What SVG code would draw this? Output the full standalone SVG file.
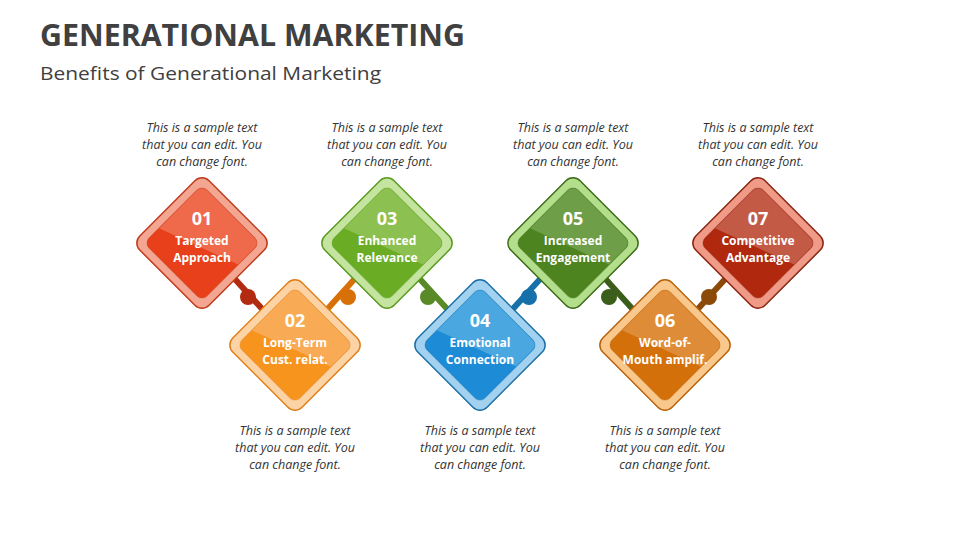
<svg xmlns="http://www.w3.org/2000/svg" width="960" height="540" viewBox="0 0 960 540">
<style>
.title{font-family:"Open Sans","Liberation Sans",sans-serif;font-weight:700;font-size:31px;fill:#404040}
.sub{font-family:"Open Sans","Liberation Sans",sans-serif;font-size:19px;fill:#404040}
.desc{font-family:"Open Sans","Liberation Sans",sans-serif;font-style:italic;font-size:12.5px;fill:#333;text-anchor:middle}
.num{font-family:"Open Sans","Liberation Sans",sans-serif;font-weight:700;font-size:18px;fill:#fff;text-anchor:middle}
.lbl{font-family:"Open Sans","Liberation Sans",sans-serif;font-weight:700;font-size:12px;fill:#fff;text-anchor:middle}
.con line{stroke-width:6}
</style>
<defs>
<clipPath id="inner" clipPathUnits="userSpaceOnUse">
<rect x="-41" y="-41" width="82" height="82" rx="7" transform="rotate(45)"/>
</clipPath>
</defs>
<rect width="960" height="540" fill="#fff"/>
<text class="title" x="40" y="46" textLength="425" lengthAdjust="spacingAndGlyphs">GENERATIONAL MARKETING</text>
<text class="sub" x="40" y="80" textLength="341" lengthAdjust="spacingAndGlyphs">Benefits of Generational Marketing</text>

<g id="connectors" class="con">
<line x1="202" y1="243" x2="295" y2="345" stroke="#b22a10"/><circle cx="248" cy="297" r="8" fill="#b22a10"/>
<line x1="295" y1="345" x2="387" y2="243" stroke="#d87008"/><circle cx="348" cy="297" r="8" fill="#d87008"/>
<line x1="387" y1="243" x2="480" y2="345" stroke="#5a8a28"/><circle cx="428" cy="297" r="8" fill="#5a8a28"/>
<line x1="480" y1="345" x2="573" y2="243" stroke="#1670aa"/><circle cx="529" cy="297" r="8" fill="#1670aa"/>
<line x1="573" y1="243" x2="665" y2="345" stroke="#3b5f1b"/><circle cx="609" cy="297" r="8" fill="#3b5f1b"/>
<line x1="665" y1="345" x2="758" y2="243" stroke="#8b4a08"/><circle cx="709" cy="297" r="8" fill="#8b4a08"/>
</g>

<g id="node1" transform="translate(202,243)">
<rect x="-49" y="-49" width="98" height="98" rx="10" transform="rotate(45)" fill="#f3a792" stroke="#c0391b" stroke-width="1.5"/>
<g clip-path="url(#inner)"><rect x="-70" y="-70" width="140" height="140" fill="#e8401a"/><polygon points="-70,-70 70,-70 70,37 -70,-27" fill="#ee6a4b"/></g>
<rect x="-41" y="-41" width="82" height="82" rx="7" transform="rotate(45)" fill="none" stroke="#c0391b" stroke-opacity="0.35"/>
<text class="num" x="0" y="-18">01</text>
<text class="lbl" x="0" y="2">Targeted</text>
<text class="lbl" x="0" y="19">Approach</text>
</g>

<g id="node2" transform="translate(295,345)">
<rect x="-49" y="-49" width="98" height="98" rx="10" transform="rotate(45)" fill="#fbd3a5" stroke="#e07f1a" stroke-width="1.5"/>
<g clip-path="url(#inner)"><rect x="-70" y="-70" width="140" height="140" fill="#f7941e"/><polygon points="-70,-70 70,-70 70,37 -70,-27" fill="#f9aa55"/></g>
<rect x="-41" y="-41" width="82" height="82" rx="7" transform="rotate(45)" fill="none" stroke="#e07f1a" stroke-opacity="0.35"/>
<text class="num" x="0" y="-18">02</text>
<text class="lbl" x="0" y="2">Long-Term</text>
<text class="lbl" x="0" y="19">Cust. relat.</text>
</g>

<g id="node3" transform="translate(387,243)">
<rect x="-49" y="-49" width="98" height="98" rx="10" transform="rotate(45)" fill="#c5e4a0" stroke="#5a9a20" stroke-width="1.5"/>
<g clip-path="url(#inner)"><rect x="-70" y="-70" width="140" height="140" fill="#6aad25"/><polygon points="-70,-70 70,-70 70,37 -70,-27" fill="#8cc152"/></g>
<rect x="-41" y="-41" width="82" height="82" rx="7" transform="rotate(45)" fill="none" stroke="#5a9a20" stroke-opacity="0.35"/>
<text class="num" x="0" y="-18">03</text>
<text class="lbl" x="0" y="2">Enhanced</text>
<text class="lbl" x="0" y="19">Relevance</text>
</g>

<g id="node4" transform="translate(480,345)">
<rect x="-49" y="-49" width="98" height="98" rx="10" transform="rotate(45)" fill="#a3d2f1" stroke="#1b6fa8" stroke-width="1.5"/>
<g clip-path="url(#inner)"><rect x="-70" y="-70" width="140" height="140" fill="#1d8bd6"/><polygon points="-70,-70 70,-70 70,37 -70,-27" fill="#4aa7e0"/></g>
<rect x="-41" y="-41" width="82" height="82" rx="7" transform="rotate(45)" fill="none" stroke="#1b6fa8" stroke-opacity="0.35"/>
<text class="num" x="0" y="-18">04</text>
<text class="lbl" x="0" y="2">Emotional</text>
<text class="lbl" x="0" y="19">Connection</text>
</g>

<g id="node5" transform="translate(573,243)">
<rect x="-49" y="-49" width="98" height="98" rx="10" transform="rotate(45)" fill="#b3df8c" stroke="#3d6b18" stroke-width="1.5"/>
<g clip-path="url(#inner)"><rect x="-70" y="-70" width="140" height="140" fill="#4d8420"/><polygon points="-70,-70 70,-70 70,37 -70,-27" fill="#6e9e48"/></g>
<rect x="-41" y="-41" width="82" height="82" rx="7" transform="rotate(45)" fill="none" stroke="#3d6b18" stroke-opacity="0.35"/>
<text class="num" x="0" y="-18">05</text>
<text class="lbl" x="0" y="2">Increased</text>
<text class="lbl" x="0" y="19">Engagement</text>
</g>

<g id="node6" transform="translate(665,345)">
<rect x="-49" y="-49" width="98" height="98" rx="10" transform="rotate(45)" fill="#f9c88c" stroke="#b8620a" stroke-width="1.5"/>
<g clip-path="url(#inner)"><rect x="-70" y="-70" width="140" height="140" fill="#d4700a"/><polygon points="-70,-70 70,-70 70,37 -70,-27" fill="#df8c38"/></g>
<rect x="-41" y="-41" width="82" height="82" rx="7" transform="rotate(45)" fill="none" stroke="#b8620a" stroke-opacity="0.35"/>
<text class="num" x="0" y="-18">06</text>
<text class="lbl" x="0" y="2">Word-of-</text>
<text class="lbl" x="0" y="19">Mouth amplif.</text>
</g>

<g id="node7" transform="translate(758,243)">
<rect x="-49" y="-49" width="98" height="98" rx="10" transform="rotate(45)" fill="#f09a88" stroke="#8a2410" stroke-width="1.5"/>
<g clip-path="url(#inner)"><rect x="-70" y="-70" width="140" height="140" fill="#b0290f"/><polygon points="-70,-70 70,-70 70,37 -70,-27" fill="#c25a45"/></g>
<rect x="-41" y="-41" width="82" height="82" rx="7" transform="rotate(45)" fill="none" stroke="#8a2410" stroke-opacity="0.35"/>
<text class="num" x="0" y="-18">07</text>
<text class="lbl" x="0" y="2">Competitive</text>
<text class="lbl" x="0" y="19">Advantage</text>
</g>

<g id="desc-top">
<text class="desc" x="202" y="132">This is a sample text<tspan x="202" dy="17">that you can edit. You</tspan><tspan x="202" dy="17">can change font.</tspan></text>
<text class="desc" x="387" y="132">This is a sample text<tspan x="387" dy="17">that you can edit. You</tspan><tspan x="387" dy="17">can change font.</tspan></text>
<text class="desc" x="573" y="132">This is a sample text<tspan x="573" dy="17">that you can edit. You</tspan><tspan x="573" dy="17">can change font.</tspan></text>
<text class="desc" x="758" y="132">This is a sample text<tspan x="758" dy="17">that you can edit. You</tspan><tspan x="758" dy="17">can change font.</tspan></text>
</g>
<g id="desc-bottom">
<text class="desc" x="295" y="435">This is a sample text<tspan x="295" dy="17">that you can edit. You</tspan><tspan x="295" dy="17">can change font.</tspan></text>
<text class="desc" x="480" y="435">This is a sample text<tspan x="480" dy="17">that you can edit. You</tspan><tspan x="480" dy="17">can change font.</tspan></text>
<text class="desc" x="665" y="435">This is a sample text<tspan x="665" dy="17">that you can edit. You</tspan><tspan x="665" dy="17">can change font.</tspan></text>
</g>
</svg>
